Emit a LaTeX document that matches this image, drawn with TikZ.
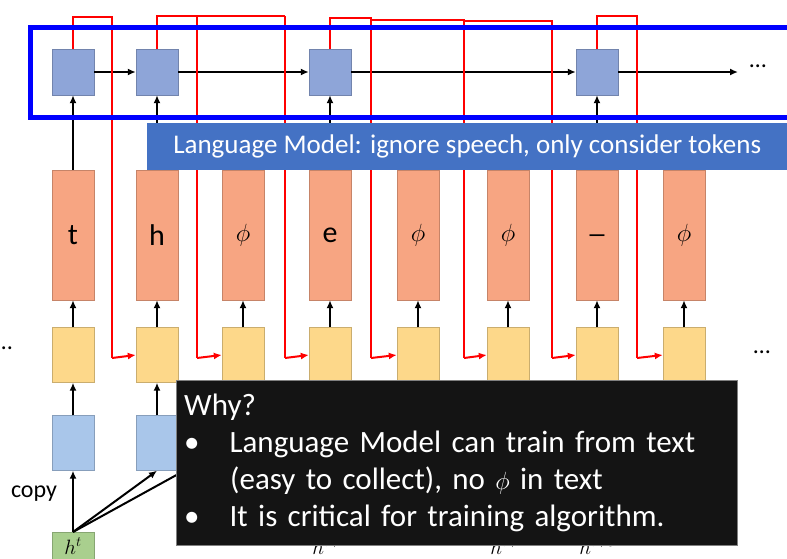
\documentclass[tikz,border=0pt]{standalone}
\usepackage{fontspec}
\setmainfont{Carlito}
\usetikzlibrary{arrows.meta}
\definecolor{lmblue}{HTML}{8EA5D8}
\definecolor{outor}{HTML}{F7A582}
\definecolor{hidy}{HTML}{FDD88A}
\definecolor{encb}{HTML}{A9C6EA}
\definecolor{inpg}{HTML}{A9CF8E}
\definecolor{banner}{HTML}{4472C4}
\begin{document}
\begin{tikzpicture}[x=1pt,y=-1pt,
  link/.style={line width=2pt,-{Latex[length=8pt,width=7pt]}},
  rwire/.style={red,line width=2pt},
  rlink/.style={red,line width=2pt,-{Latex[length=8pt,width=7pt]}},
  box/.style={draw=#1!80!black,fill=#1,minimum width=42pt,inner sep=0pt}]
  \useasboundingbox (0,0) rectangle (787,558);
  \clip (0,0) rectangle (787,558);
  % columns
  \foreach \i/\x/\c in {1/73/t,2/157/h,3/243/$\phi$,4/330/e,5/418/$\phi$,6/508/$\phi$,7/597/\_,8/684/$\phi$} {
    \node[box=outor,minimum height=130pt,font=\fontsize{30}{32}\selectfont] (o\i) at (\x,235) {\c};
    \node[box=hidy,minimum height=55pt] (y\i) at (\x,355) {};
    \draw[link] (y\i.north) -- (o\i.south);
  }
  % language model
  \foreach \i/\x in {1/73,2/157,4/330,7/597} {
    \node[box=lmblue,minimum height=46pt] (m\i) at (\x,72) {};
    \draw[link] (o\i.north) -- (m\i.south);
  }
  \coordinate (end) at (738,72);
  \draw[link] (m1) -- (m2);
  \draw[link] (m2) -- (m4);
  \draw[link] (m4) -- (m7);
  \draw[link] (m7) -- (end);
  \node[font=\fontsize{24}{26}\selectfont] at (758,66) {\dots};
  % red feedback
  \draw[rwire] (m1.north) |- (112,17) -- (112,358);
  \draw[rlink] (112,358) -- (y2.west);
  \draw[rwire] (m2.north) |- (285,16) (197,16) -- (197,358);
  \draw[rwire] (285,16) -- (285,358);
  \draw[rlink] (197,358) -- (y3.west);
  \draw[rlink] (285,358) -- (y4.west);
  \draw[rwire] (m4.north) |- (371,18) -- (371,358);
  \draw[rwire] (371,20) -- (464,20) -- (464,358);
  \draw[rwire] (464,21) -- (552,21) -- (552,358);
  \draw[rlink] (371,358) -- (y5.west);
  \draw[rlink] (464,358) -- (y6.west);
  \draw[rlink] (552,358) -- (y7.west);
  \draw[rwire] (m7.north) |- (637,16) -- (637,358);
  \draw[rlink] (637,358) -- (y8.west);
  \draw[blue,line width=5pt] (30,27) rectangle (800,117);
  % encoder and input
  \node[box=encb,minimum height=55pt] (e1) at (73,443) {};
  \node[box=encb,minimum height=55pt] (e2) at (157,443) {};
  \draw[link] (e1.north) -- (y1.south);
  \draw[link] (e2.north) -- (y2.south);
  \node[box=inpg,minimum height=30pt,anchor=north] (g1) at (73,532) {};
  \node[font=\fontsize{20}{22}\selectfont] at (73,546) {$h^t$};
  \node[font=\fontsize{20}{22}\selectfont] at (330,546) {$h^{t+1}$};
  \node[font=\fontsize{20}{22}\selectfont] at (508,546) {$h^{t+2}$};
  \node[font=\fontsize{20}{22}\selectfont] at (597,546) {$h^{t+3}$};
  \coordinate (hid) at (240,440);
  \draw[link] (g1.north) -- (e1.south);
  \draw[link] (g1.north) -- (e2.south);
  \draw[link] (g1.north) -- (hid);
  \node[font=\fontsize{24}{26}\selectfont] (cp) at (34,494) {copy};
  \node[font=\fontsize{24}{26}\selectfont] at (4,348) {\dots};
  \node[font=\fontsize{24}{26}\selectfont] at (762,352) {\dots};
  % overlays
  \node[fill=banner,text=white,anchor=north west,minimum width=640pt,minimum height=47pt,
    font=\fontsize{27}{29}\selectfont] (lm) at (147,123) {Language Model: ignore speech, only consider tokens};
  \node[fill=black!92,draw=gray,text=white,anchor=north west,minimum width=561pt,minimum height=165pt,
    align=left,text width=545pt,inner sep=6pt,font=\fontsize{31}{37}\selectfont] (why) at (176,380)
    {\raggedright Why?\\
     \textbullet\hspace{30pt}Language Model can train from text\\
     \hspace{46pt}(easy to collect), no $\phi$ in text\\
     \textbullet\hspace{30pt}It is critical for training algorithm.};
\end{tikzpicture}
\end{document}
